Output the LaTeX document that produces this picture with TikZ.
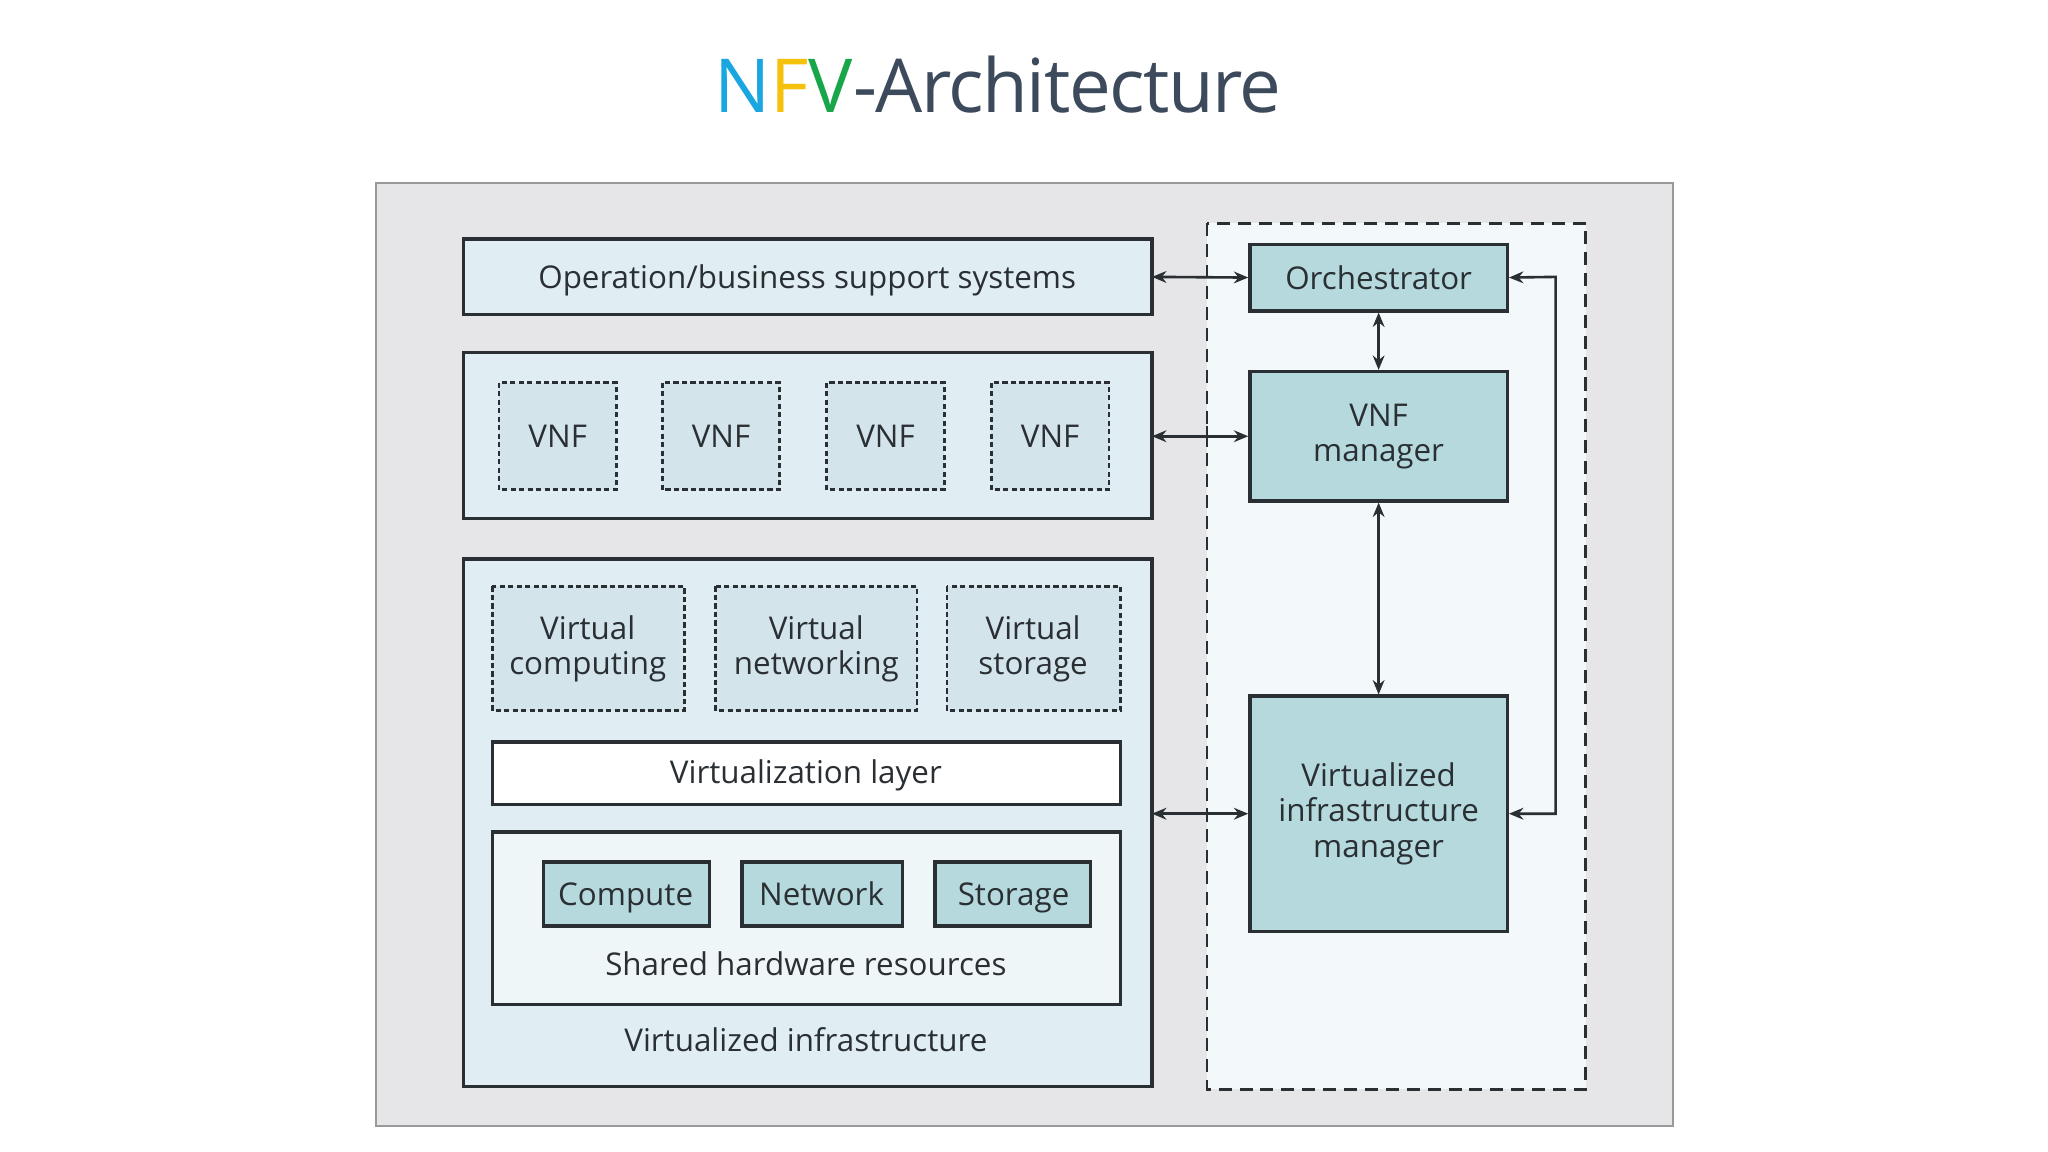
\documentclass[tikz,border=0pt]{standalone}
\usepackage{fontspec}
\setmainfont{Open Sans}
\usetikzlibrary{positioning,arrows.meta}
\definecolor{outerbg}{HTML}{E6E5E8}
\definecolor{paleblue}{HTML}{E0EDF2}
\definecolor{vnfblue}{HTML}{D3E4EA}
\definecolor{teal}{HTML}{B5D9DC}
\definecolor{ink}{HTML}{2A2F33}
\definecolor{titleink}{HTML}{3C4A5C}
\tikzset{
  blk/.style={draw=ink,line width=2.6pt,fill=paleblue},
  dsh/.style={draw=ink,line width=2pt,dash pattern=on 4pt off 2.5pt,fill=vnfblue},
  mgr/.style={draw=ink,line width=2.6pt,fill=teal},
  lbl/.style={text=ink,font=\fontsize{24}{27}\selectfont,align=center},
  one/.style={text height=18pt,text depth=0pt},
  link/.style={draw=ink,line width=2pt,{Stealth[length=11pt,width=9pt]}-{Stealth[length=11pt,width=9pt]}}
}
\begin{document}
\begin{tikzpicture}[x=1pt,y=-1pt]
\useasboundingbox (0,0) rectangle (1568,882);
% title
\node[font=\fontsize{57}{60}\selectfont\addfontfeature{LetterSpace=-2}] (title) at (764,65)
  {\textcolor[HTML]{1AA6E0}{N}\textcolor[HTML]{F4C20D}{F}\textcolor[HTML]{19A64B}{V}\textcolor{titleink}{-Architecture}};
% frames
\draw[draw=gray!80,fill=outerbg,line width=1.4pt] (288,140) rectangle (1281,862);
\draw[draw=ink,line width=2pt,dash pattern=on 10pt off 6pt,fill=white!60!paleblue] (924,171) rectangle (1214,834);
% left column
\draw[blk] (355,183) rectangle (882,241);
\node[lbl,one] (oss) at (618,212) {Operation/business support systems};
\draw[blk] (355,270) rectangle (882,397);
\foreach \x in {382,507,633,759}{
  \draw[dsh] (\x,293) rectangle ++(90,82);
  \node[lbl,one] at (\x+45,334) {VNF};
}
\draw[blk] (355,428) rectangle (882,832);
\draw[dsh] (377,449) rectangle (524,544);
\node[lbl] at (450,497) {Virtual\\computing};
\draw[dsh] (548,449) rectangle (702,544);
\node[lbl] at (625,497) {Virtual\\networking};
\draw[dsh] (725,449) rectangle (858,544);
\node[lbl] at (791,497) {Virtual\\storage};
\draw[draw=ink,line width=2.6pt,fill=white] (377,568) rectangle (858,616);
\node[lbl,one] (vlayer) at (617,591) {Virtualization layer};
\draw[draw=ink,line width=2.6pt,fill=white!50!paleblue] (377,637) rectangle (858,769);
\draw[mgr] (416,660) rectangle (543,709);
\node[lbl,one] at (479,684) {Compute};
\draw[mgr] (568,660) rectangle (691,709);
\node[lbl,one] at (629,684) {Network};
\draw[mgr] (716,660) rectangle (835,709);
\node[lbl,one] at (776,684) {Storage};
\node[lbl,one] (shw) at (617,738) {Shared hardware resources};
\node[lbl,one] (vinf) at (617,796) {Virtualized infrastructure};
% management side
\node[mgr,lbl,one,minimum width=197pt,minimum height=51pt] (orch) at (1055.5,212.5) {Orchestrator};
\node[mgr,lbl,minimum width=197pt,minimum height=99pt] (vnfm) at (1055.5,334) {VNF\\manager};
\node[mgr,lbl,minimum width=197pt,minimum height=180pt] (vim) at (1055.5,623) {Virtualized\\infrastructure\\manager};
\coordinate (ossR) at (882,212);
\coordinate (vnfR) at (882,334);
\coordinate (viR) at (882,623);
\coordinate (loopT) at (1191,212);
\coordinate (loopB) at (1191,623);
\draw[link] (ossR) -- (orch.west);
\draw[link] (vnfR) -- (vnfm.west);
\draw[draw=ink,line width=2pt] (924,326) -- (924,342);
\draw[link] (viR) -- (vim.west);
\draw[link] (orch.south) -- (vnfm.north);
\draw[link] (vnfm.south) -- (vim.north);
\draw[link] (orch.east) -- (loopT) -- (loopB) -- (vim.east);
\end{tikzpicture}
\end{document}
